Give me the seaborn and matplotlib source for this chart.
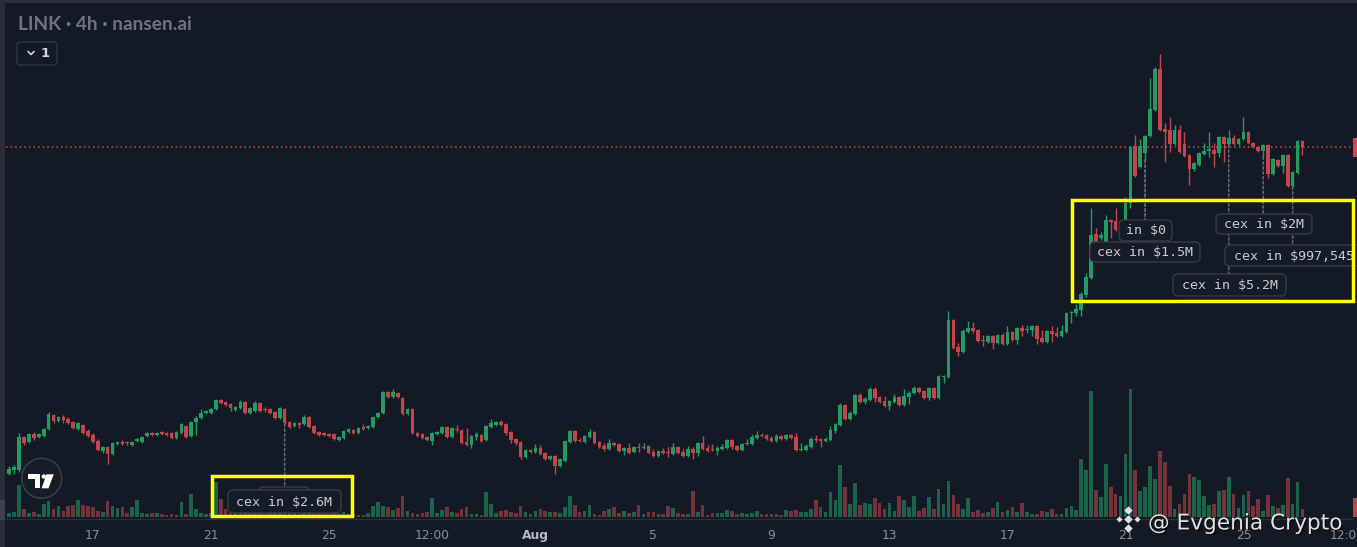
import numpy as np
import pandas as pd
import matplotlib
matplotlib.use("Agg")
import matplotlib.pyplot as plt
import matplotlib.transforms as mtransforms
from matplotlib.patches import Rectangle, FancyBboxPatch, Circle, Polygon, RegularPolygon, ConnectionPatch
from matplotlib.lines import Line2D
import matplotlib.patheffects as pe
import seaborn as sns

# ---------------- data: LINK 4h candles (USD) ----------------
START = "2025-07-14 04:00"

opens = [
    14.78, 14.90, 14.90, 15.89, 15.74, 15.98, 15.89, 15.92, 16.13, 16.55,
    16.37, 16.49, 16.43, 16.34, 16.13, 16.25, 16.07, 15.95, 15.77, 15.47,
    15.59, 15.38, 15.68, 15.74, 15.74, 15.65, 15.77, 15.74, 15.92, 16.01,
    15.95, 16.04, 16.01, 16.01, 15.86, 16.01, 16.22, 15.92, 16.34, 16.46,
    16.61, 16.61, 16.73, 17.00, 16.94, 16.88, 16.70, 16.76, 16.94, 16.61,
    16.67, 16.91, 16.73, 16.73, 16.64, 16.46, 16.73, 16.34, 16.22, 16.31,
    16.28, 16.49, 16.22, 16.04, 16.01, 15.98, 15.98, 15.80, 15.86, 16.04,
    16.10, 16.01, 16.19, 16.16, 16.19, 16.49, 16.61, 17.24, 17.09, 17.21,
    17.06, 16.58, 16.73, 16.01, 15.98, 15.89, 15.77, 15.98, 16.01, 16.19,
    15.89, 16.13, 16.10, 15.74, 15.65, 15.89, 15.95, 15.80, 16.19, 16.25,
    16.34, 16.28, 16.04, 15.83, 15.74, 15.29, 15.50, 15.44, 15.56, 15.41,
    15.23, 15.32, 15.02, 15.17, 15.74, 16.07, 15.80, 15.74, 15.89, 16.04,
    15.74, 15.62, 15.53, 15.71, 15.68, 15.47, 15.56, 15.44, 15.59, 15.56,
    15.62, 15.44, 15.32, 15.47, 15.44, 15.38, 15.59, 15.44, 15.32, 15.53,
    15.41, 15.71, 15.56, 15.53, 15.47, 15.53, 15.56, 15.80, 15.62, 15.50,
    15.68, 15.68, 15.86, 15.95, 15.95, 15.86, 15.77, 15.92, 15.83, 15.95,
    15.89, 15.50, 15.50, 15.59, 15.83, 15.83, 15.77, 15.80, 16.07, 16.25,
    16.85, 16.43, 16.58, 17.15, 16.94, 17.00, 17.33, 17.09, 16.97, 16.82,
    16.94, 17.09, 16.85, 17.09, 17.21, 17.36, 17.27, 17.06, 17.36, 17.06,
    17.69, 17.69, 19.40, 18.59, 18.44, 19.04, 19.16, 19.10, 18.80, 18.74,
    18.92, 18.71, 18.95, 18.68, 19.04, 18.80, 19.16, 19.10, 19.10, 19.22,
    18.86, 18.74, 19.07, 19.01, 18.92, 19.04, 19.61, 19.61, 19.70, 20.15,
    20.66, 21.98, 21.86, 21.74, 22.40, 22.37, 22.10, 22.40, 22.91, 24.62,
    23.99, 24.41, 24.92, 25.70, 26.93, 25.13, 25.10, 24.68, 25.10, 24.68,
    24.35, 23.93, 24.05, 24.38, 24.47, 24.50, 24.41, 24.89, 24.68, 24.86,
    24.68, 24.83, 25.04, 24.71, 24.59, 24.47, 24.65, 23.78, 24.20, 24.02,
    24.35, 23.42, 23.81, 24.77,
]

highs = [
    15.02, 15.05, 16.01, 15.92, 16.01, 16.04, 16.01, 16.16, 16.64, 16.58,
    16.52, 16.55, 16.49, 16.37, 16.34, 16.28, 16.13, 16.01, 15.83, 15.62,
    15.62, 15.74, 15.77, 15.80, 15.77, 15.77, 15.86, 15.92, 16.04, 16.04,
    16.04, 16.07, 16.04, 16.04, 16.07, 16.31, 16.25, 16.37, 16.52, 16.73,
    16.70, 16.76, 17.03, 17.03, 16.97, 16.91, 16.82, 17.00, 16.97, 16.79,
    16.97, 16.94, 16.79, 16.76, 16.67, 16.79, 16.76, 16.37, 16.34, 16.34,
    16.55, 16.52, 16.25, 16.07, 16.04, 16.01, 16.01, 15.92, 16.10, 16.16,
    16.13, 16.19, 16.28, 16.25, 16.52, 16.64, 17.27, 17.27, 17.33, 17.24,
    17.09, 16.76, 16.76, 16.04, 16.01, 15.92, 16.04, 16.07, 16.22, 16.22,
    16.19, 16.25, 16.13, 16.16, 15.95, 16.04, 15.98, 16.25, 16.43, 16.37,
    16.40, 16.31, 16.07, 15.86, 15.77, 15.53, 15.53, 15.68, 15.65, 15.44,
    15.35, 15.35, 15.26, 15.80, 16.10, 16.10, 15.86, 15.95, 16.13, 16.07,
    15.77, 15.71, 15.83, 15.74, 15.71, 15.59, 15.71, 15.62, 15.71, 15.71,
    15.65, 15.53, 15.50, 15.56, 15.59, 15.71, 15.62, 15.53, 15.62, 15.59,
    15.74, 15.92, 15.65, 15.68, 15.62, 15.68, 15.83, 15.83, 15.65, 15.71,
    15.83, 15.98, 16.07, 16.01, 15.98, 15.92, 15.98, 15.95, 15.98, 15.98,
    16.01, 15.71, 15.68, 15.89, 15.95, 15.86, 15.89, 16.22, 16.31, 16.91,
    16.88, 16.67, 17.18, 17.21, 17.09, 17.39, 17.39, 17.12, 17.12, 17.00,
    17.18, 17.12, 17.33, 17.27, 17.42, 17.39, 17.30, 17.39, 17.39, 17.75,
    17.75, 19.67, 19.43, 18.71, 19.13, 19.37, 19.34, 19.13, 18.95, 18.95,
    18.95, 18.98, 19.01, 19.22, 19.07, 19.19, 19.25, 19.25, 19.25, 19.25,
    19.10, 19.10, 19.22, 19.19, 19.25, 19.64, 19.67, 19.88, 20.24, 20.81,
    22.76, 22.16, 22.04, 22.55, 22.43, 22.76, 22.34, 23.09, 24.62, 24.95,
    24.83, 24.95, 26.66, 26.99, 27.38, 25.31, 25.49, 25.25, 25.25, 25.04,
    24.38, 24.14, 24.44, 24.71, 25.04, 24.71, 24.92, 24.92, 25.10, 24.95,
    24.86, 25.49, 25.07, 24.74, 24.62, 24.68, 24.68, 24.26, 24.23, 24.38,
    24.38, 23.87, 24.80, 24.80,
]

lows = [
    14.75, 14.78, 14.84, 15.65, 15.71, 15.80, 15.86, 15.89, 16.10, 16.31,
    16.34, 16.31, 16.28, 16.13, 16.10, 15.98, 15.89, 15.71, 15.47, 15.41,
    15.08, 15.35, 15.65, 15.65, 15.65, 15.62, 15.74, 15.71, 15.89, 15.92,
    15.92, 15.95, 15.92, 15.83, 15.83, 15.98, 15.86, 15.89, 15.95, 16.43,
    16.58, 16.58, 16.70, 16.88, 16.82, 16.67, 16.67, 16.73, 16.58, 16.58,
    16.64, 16.64, 16.64, 16.58, 16.43, 16.43, 16.28, 16.16, 16.19, 16.16,
    16.25, 16.16, 15.98, 15.92, 15.92, 15.89, 15.80, 15.77, 15.83, 16.01,
    15.98, 15.98, 16.10, 16.13, 16.16, 16.46, 16.58, 17.06, 17.06, 17.06,
    16.55, 16.55, 15.98, 15.89, 15.83, 15.77, 15.65, 15.95, 15.98, 15.86,
    15.86, 16.04, 15.68, 15.62, 15.56, 15.80, 15.74, 15.77, 16.16, 16.22,
    16.22, 15.95, 15.71, 15.65, 15.23, 15.26, 15.41, 15.41, 15.35, 15.20,
    15.20, 14.78, 14.99, 15.14, 15.71, 15.74, 15.74, 15.71, 15.86, 15.68,
    15.56, 15.47, 15.50, 15.62, 15.44, 15.35, 15.38, 15.41, 15.44, 15.53,
    15.38, 15.29, 15.29, 15.38, 15.29, 15.35, 15.38, 15.29, 15.29, 15.23,
    15.32, 15.50, 15.44, 15.47, 15.35, 15.50, 15.53, 15.53, 15.47, 15.47,
    15.65, 15.65, 15.83, 15.89, 15.80, 15.74, 15.74, 15.80, 15.80, 15.83,
    15.47, 15.47, 15.47, 15.56, 15.74, 15.59, 15.74, 15.77, 16.01, 16.22,
    16.40, 16.40, 16.55, 16.91, 16.88, 16.97, 16.94, 16.91, 16.79, 16.70,
    16.91, 16.82, 16.82, 16.88, 17.18, 17.21, 17.03, 17.00, 17.03, 17.03,
    17.51, 17.66, 18.53, 18.32, 18.41, 19.01, 19.01, 18.74, 18.62, 18.71,
    18.53, 18.68, 18.65, 18.65, 18.77, 18.68, 18.92, 19.01, 18.92, 18.68,
    18.71, 18.71, 18.74, 18.89, 18.89, 19.01, 19.31, 19.52, 19.52, 20.09,
    20.63, 21.71, 21.80, 21.71, 21.86, 22.07, 22.04, 22.19, 22.76, 23.69,
    23.96, 24.20, 24.89, 25.67, 25.07, 24.14, 24.44, 24.65, 24.41, 24.29,
    23.45, 23.87, 24.02, 24.35, 24.29, 23.99, 24.29, 24.14, 24.65, 24.65,
    24.65, 24.80, 24.68, 24.56, 24.44, 24.29, 23.66, 23.75, 23.99, 23.81,
    23.39, 23.39, 23.78, 24.35,
]

closes = [
    14.93, 14.99, 15.89, 15.71, 15.98, 15.86, 15.98, 16.13, 16.58, 16.37,
    16.49, 16.40, 16.31, 16.16, 16.31, 16.01, 15.92, 15.74, 15.50, 15.59,
    15.38, 15.71, 15.74, 15.68, 15.71, 15.74, 15.83, 15.89, 16.01, 15.95,
    16.01, 15.98, 15.95, 15.86, 16.04, 16.28, 15.89, 16.34, 16.46, 16.61,
    16.67, 16.73, 17.00, 16.91, 16.85, 16.76, 16.79, 16.94, 16.61, 16.76,
    16.91, 16.67, 16.70, 16.61, 16.46, 16.76, 16.31, 16.19, 16.31, 16.25,
    16.49, 16.19, 16.01, 15.95, 15.95, 15.92, 15.83, 15.89, 16.07, 16.13,
    16.01, 16.16, 16.13, 16.22, 16.49, 16.61, 17.24, 17.09, 17.24, 17.09,
    16.58, 16.73, 16.01, 15.92, 15.86, 15.80, 16.01, 16.04, 16.19, 15.89,
    16.16, 16.10, 15.71, 15.65, 15.92, 15.98, 15.77, 16.22, 16.31, 16.34,
    16.25, 16.01, 15.80, 15.71, 15.29, 15.50, 15.44, 15.56, 15.38, 15.23,
    15.32, 15.02, 15.23, 15.77, 16.07, 15.77, 15.77, 15.92, 16.04, 15.71,
    15.59, 15.53, 15.71, 15.65, 15.47, 15.56, 15.41, 15.59, 15.56, 15.59,
    15.41, 15.32, 15.47, 15.41, 15.41, 15.59, 15.41, 15.32, 15.53, 15.41,
    15.71, 15.53, 15.47, 15.50, 15.56, 15.59, 15.80, 15.59, 15.50, 15.68,
    15.71, 15.89, 15.95, 15.92, 15.83, 15.77, 15.92, 15.83, 15.95, 15.86,
    15.50, 15.53, 15.62, 15.83, 15.80, 15.77, 15.83, 16.10, 16.28, 16.85,
    16.43, 16.61, 17.15, 16.94, 17.03, 17.33, 17.06, 16.94, 16.82, 16.97,
    17.09, 16.85, 17.12, 17.21, 17.36, 17.24, 17.06, 17.36, 17.06, 17.72,
    17.72, 19.40, 18.56, 18.44, 19.07, 19.16, 19.07, 18.77, 18.77, 18.92,
    18.71, 18.95, 18.68, 19.04, 18.80, 19.16, 19.07, 19.13, 19.22, 18.83,
    18.74, 19.07, 18.98, 18.92, 19.07, 19.61, 19.64, 19.73, 20.18, 20.69,
    21.95, 21.74, 21.95, 22.40, 22.34, 22.10, 22.25, 22.91, 24.59, 23.72,
    24.62, 24.92, 25.73, 26.93, 25.10, 25.04, 24.68, 25.10, 24.44, 24.32,
    23.93, 24.11, 24.41, 24.47, 24.53, 24.38, 24.89, 24.68, 24.86, 24.68,
    24.83, 25.04, 24.71, 24.59, 24.47, 24.65, 23.78, 24.23, 24.02, 24.35,
    23.42, 23.84, 24.77, 24.59,
]

# volume per candle (thousand LINK)
volumes = [
    40, 50, 320, 80, 40, 50, 30, 130, 160, 80,
    110, 60, 110, 120, 170, 120, 110, 100, 60, 50,
    160, 110, 90, 100, 40, 100, 170, 40, 30, 40,
    40, 30, 20, 30, 20, 150, 30, 230, 80, 40,
    30, 40, 350, 180, 80, 70, 50, 60, 100, 40,
    60, 80, 30, 50, 70, 80, 120, 90, 40, 30,
    60, 90, 70, 50, 30, 30, 60, 30, 50, 30,
    30, 20, 20, 40, 110, 150, 110, 100, 70, 90,
    210, 60, 40, 30, 40, 50, 190, 40, 70, 100,
    50, 40, 80, 100, 30, 30, 20, 250, 130, 40,
    60, 70, 50, 40, 110, 50, 30, 60, 80, 60,
    50, 50, 40, 100, 210, 120, 50, 60, 120, 30,
    20, 60, 80, 100, 40, 60, 40, 50, 120, 30,
    50, 50, 30, 30, 110, 90, 40, 30, 30, 260,
    50, 120, 20, 40, 40, 40, 70, 60, 30, 40,
    30, 40, 60, 30, 30, 30, 30, 20, 70, 60,
    70, 50, 50, 80, 170, 100, 50, 250, 170, 520,
    300, 130, 340, 120, 140, 130, 190, 140, 80, 140,
    60, 210, 170, 100, 210, 60, 90, 200, 80, 280,
    130, 360, 220, 130, 80, 190, 50, 70, 40, 50,
    90, 150, 50, 70, 100, 50, 140, 50, 30, 30,
    60, 50, 80, 30, 30, 90, 110, 70, 580, 470,
    1260, 270, 200, 530, 300, 230, 210, 630, 1280, 470,
    260, 300, 510, 380, 660, 550, 310, 80, 130, 230,
    430, 400, 370, 210, 120, 130, 260, 270, 400, 230,
    90, 220, 260, 110, 180, 60, 220, 110, 90, 120,
    390, 130, 350, 80,
]

tick_times = ["2025-07-17", "2025-07-21", "2025-07-25", "2025-07-28 12:00",
              "2025-08-01", "2025-08-05", "2025-08-09", "2025-08-13",
              "2025-08-17", "2025-08-21", "2025-08-25", "2025-08-28 12:00"]
tick_labels = ["17", "21", "25", "12:00", "Aug", "5", "9", "13", "17", "21", "25", "12:00"]

flow_texts = ["cex in $5.2M", "cex in $2M", "cex in $997,545", "cex in $1.5M", "in $0", "cex in $2.6M"]
flow_times = ["2025-08-24 12:00", "2025-08-25 16:00", "2025-08-26 16:00",
              "2025-08-21 16:00", "2025-08-21 16:00", "2025-07-23 12:00"]

# ---------------- style ----------------
W, H = 1357, 547
BG = "#131a25"
UP, DN = "#239c63", "#c4464c"
VUP, VDN = "#1c6449", "#74323a"

sns.set_theme(style="dark", rc={"figure.facecolor": BG, "axes.facecolor": BG,
                                "savefig.facecolor": BG, "axes.edgecolor": "#2a2e39"})
plt.rcParams["font.family"] = ["DejaVu Sans"]

n = len(closes)
dates = pd.date_range(START, periods=n, freq="4h")
step = pd.Timedelta("4h")
pos = np.arange(n)
o = np.array(opens); c = np.array(closes); hi = np.array(highs); lo = np.array(lows)
up = c >= o

fig = plt.figure(figsize=(W / 100, H / 100), dpi=100)
ax = fig.add_axes([6 / W, 1 - 519 / H, 1346 / W, 509 / H])
axv = ax.twinx()
ax.set_zorder(2); axv.set_zorder(1)
ax.patch.set_visible(False); axv.patch.set_visible(False)

# volume bars (seaborn)
df = pd.DataFrame({"pos": pos, "volume": volumes, "side": np.where(up, "up", "down")})
sns.barplot(data=df, x="pos", y="volume", hue="side", hue_order=["up", "down"],
            palette={"up": VUP, "down": VDN}, native_scale=True, dodge=False,
            width=0.74, errorbar=None, legend=False, saturation=1, linewidth=0, ax=axv)

# candles
colors = np.where(up, UP, DN)
ax.vlines(pos, lo, hi, colors=colors, linewidth=1.0)
ax.bar(pos, np.maximum(np.abs(c - o), 0.03), bottom=np.minimum(o, c), width=0.74,
       color=colors, linewidth=0)
ax.axhline(c[-1], color="#e0434a", lw=1.1, ls=(0, (1, 2)), zorder=0.5)

ax.set_xlim(-0.67, 273.07)
ax.set_ylim(13.43, 28.70)
axv.set_ylim(-20, 5070)

tick_pos = [(pd.Timestamp(t) - dates[0]) / step for t in tick_times]
ax.set_xticks(tick_pos)
ax.set_xticklabels(tick_labels)
ax.set_yticks([]); axv.set_yticks([])
axv.set_xlabel(""); axv.set_ylabel(""); ax.set_xlabel(""); ax.set_ylabel("")
ax.tick_params(axis="x", length=0, pad=7, labelsize=8.8, labelcolor="#8b8f99")
for lbl in ax.get_xticklabels():
    if lbl.get_text() == "Aug":
        lbl.set_fontweight("bold"); lbl.set_color("#b8bbc4")
ax.grid(False); axv.grid(False)
for a in (ax, axv):
    for s in a.spines.values():
        s.set_visible(False)
ax.spines["bottom"].set_visible(True)
ax.spines["bottom"].set_color("#2a2f3a")
ax.spines["bottom"].set_linewidth(1.0)

# ---------------- decorations (pixel layout) ----------------
IDT = mtransforms.IdentityTransform()


def rect(x0, y0, x1, y1, **kw):
    p = Rectangle((x0, H - y1), x1 - x0, y1 - y0, transform=IDT, **kw)
    fig.add_artist(p)
    return p


def rbox(x0, y0, x1, y1, r=5, **kw):
    p = FancyBboxPatch((x0, H - y1), x1 - x0, y1 - y0,
                       boxstyle=f"round,pad=0,rounding_size={r}", transform=IDT, **kw)
    fig.add_artist(p)
    return p


# frame strips
rect(0, 0, W, 3, fc="#2a2e39", ec="none", zorder=1)
rect(0, 0, 5, H, fc="#2a2e39", ec="none", zorder=1)
rect(0, 500, 5, 520, fc="#3d414c", ec="none", zorder=1.1)
# right price-scale tags
rect(1353, 138, W, 157, fc="#d9464b", ec="none", zorder=1)
rect(1353, 498, W, 517, fc="#b9444a", ec="none", zorder=1)

# header
fig.text(18 / W, 1 - 25 / H, "LINK · 4h · nansen.ai", color="#6f737d", fontsize=13.8,
         fontweight="bold", family=["Lato", "DejaVu Sans"], va="center", ha="left")
rbox(17, 42, 57, 65, r=3, fc="none", ec="#363b46", lw=0.8, zorder=3)
fig.add_artist(Line2D([28, 31, 34], [H - 51.5, H - 54.5, H - 51.5], transform=IDT,
                      color="#d1d4dc", lw=1.2, zorder=3))
fig.text(45 / W, 1 - 53.5 / H, "1", color="#d1d4dc", fontsize=9.5, fontweight="bold",
         va="center", ha="center")

# TradingView logo
fig.add_artist(Circle((41.7, H - 478.3), 20, transform=IDT, fc="#171d28", ec="#3b3f4a",
                      lw=1.1, zorder=3))
rect(28.3, 474.3, 40, 478.8, fc="white", ec="none", zorder=3.1)
rect(35, 478.5, 40, 488.3, fc="white", ec="none", zorder=3.1)
fig.add_artist(Circle((43.8, H - 476.5), 2.2, transform=IDT, fc="white", ec="none", zorder=3.1))
fig.add_artist(Polygon([(46.5, H - 474.3), (53.8, H - 474.3), (48.5, H - 488.3),
                        (41.6, H - 488.3)], closed=True, transform=IDT, fc="white",
                       ec="none", zorder=3.1))

# flow markers: dotted leader from candle low down to its label
label_boxes = [
    (1173, 274, 1286, 296),
    (1216, 214, 1312, 234),
    (1225, 245, 1362, 266),
    (1090, 242, 1200, 262),
    (1119, 220, 1172, 241),
    (228, 490, 341, 513),
]
blend = mtransforms.blended_transform_factory(ax.transData, IDT)
time_pos = {t: (pd.Timestamp(t) - dates[0]) / step for t in flow_times}
for txt, t, (x0, y0, x1, y1) in zip(flow_texts, flow_times, label_boxes):
    k = int(round(time_pos[t]))
    top = y0 if txt != "cex in $2.6M" else 487
    cp = ConnectionPatch(xyA=(k, lows[k]), coordsA=ax.transData, xyB=(k, H - top),
                         coordsB=blend, color="#646975", lw=1.1, ls=(0, (1.6, 1.6)),
                         zorder=2.5)
    fig.add_artist(cp)

# hidden label behind "cex in $2.6M"
rbox(258, 487, 310, 507, r=5, fc="#161c27", ec="#363b46", lw=1.0, zorder=2.9)
for i, (txt, (x0, y0, x1, y1)) in enumerate(zip(flow_texts, label_boxes)):
    rbox(x0, y0, x1, y1, r=5, fc="#161c27", ec="#363b46", lw=1.0, zorder=3 + i * 0.01)
    fig.text(((x0 + x1) / 2) / W, 1 - ((y0 + y1) / 2 + 0.5) / H, txt,
             family=["DejaVu Sans Mono"], fontsize=9.6, color="#c8ccd4",
             ha="center", va="center", zorder=3.005 + i * 0.01)

# yellow highlight boxes
rect(211.5, 475.5, 352, 515.5, fc="none", ec="#ffff00", lw=2.5, zorder=4)
rect(1072, 199.5, 1352.5, 300.5, fc="none", ec="#ffff00", lw=2.5, zorder=4)

# watermark
wm_color = "#e2e2e2"
for (cx, cy, r) in [(1128.5, 519.5, 4.2), (1119.5, 519.5, 3.0), (1137.5, 519.5, 3.0),
                    (1128.5, 510.5, 4.2), (1128.5, 528.5, 4.2)]:
    fig.add_artist(RegularPolygon((cx, H - cy), 4, radius=r, orientation=0, transform=IDT,
                                  fc=wm_color, ec="none", zorder=5))
fig.text(1148 / W, 1 - 529.5 / H, "@ Evgenia Crypto", color=wm_color, fontsize=15.6,
         va="baseline", ha="left", zorder=5,
         path_effects=[pe.withSimplePatchShadow(offset=(1, -1), shadow_rgbFace="black", alpha=0.6)])

fig.savefig("out.png", dpi=100, facecolor=BG)
